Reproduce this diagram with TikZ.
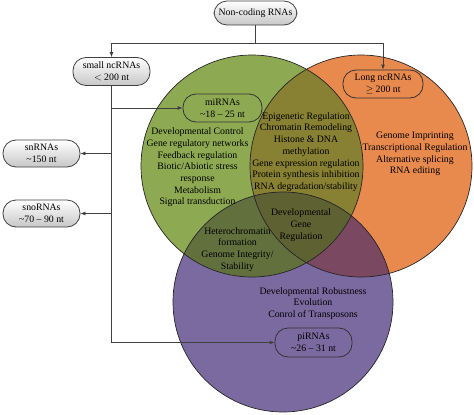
\documentclass[tikz,border=0pt]{standalone}
\usepackage{fontspec}
\setmainfont{Liberation Serif}
\usetikzlibrary{arrows.meta}

\definecolor{grn}{RGB}{141,170,82}
\definecolor{org}{RGB}{232,137,78}
\definecolor{prp}{RGB}{123,106,160}
\definecolor{grnorg}{RGB}{136,128,50}
\definecolor{grnprp}{RGB}{98,112,62}
\definecolor{orgprp}{RGB}{122,72,96}
\definecolor{allthree}{RGB}{94,98,50}

\begin{document}
\begin{tikzpicture}[x=1pt,y=-1pt,>={Latex[length=5pt,width=4pt]},
  txt/.style={align=center,inner sep=0pt,font=\fontsize{9.8}{11.7}\selectfont},
  rnabox/.style={txt,draw=black!75,line width=0.8pt,rounded corners=13pt,
    minimum width=77pt,minimum height=28pt,top color=white,bottom color=black!22},
  clrbox/.style={txt,draw=black!80,line width=0.8pt,rounded corners=13pt,
    minimum width=79pt,minimum height=28pt},
  link/.style={draw=black!75,line width=0.8pt}]
\useasboundingbox (0,0) rectangle (474,415);

\coordinate (gc) at (252,166);
\coordinate (oc) at (361,166);
\coordinate (pc) at (283,302);

% the three circles
\fill[grn] (gc) circle[radius=111];
\fill[org] (oc) circle[radius=111];
\fill[prp] (pc) circle[radius=110];
\begin{scope}
  \clip (gc) circle[radius=111];
  \fill[grnorg] (oc) circle[radius=111];
  \fill[grnprp] (pc) circle[radius=110];
\end{scope}
\begin{scope}
  \clip (oc) circle[radius=111];
  \fill[orgprp] (pc) circle[radius=110];
\end{scope}
\begin{scope}
  \clip (gc) circle[radius=111];
  \clip (oc) circle[radius=111];
  \fill[allthree] (pc) circle[radius=110];
\end{scope}
\foreach \c/\r in {gc/111,oc/111,pc/110}{
    \draw[black!85,line width=0.7pt] (\c) circle[radius=\r];
}

% boxes
\node[rnabox,minimum width=83pt,minimum height=24pt] (nc) at (255.5,13) {Non-coding RNAs};
\node[rnabox] (small) at (111.5,71.5) {small ncRNAs\\$<$ 200 nt};
\node[clrbox,minimum width=80pt] (long) at (383,84) {Long ncRNAs\\$\geq$ 200 nt};
\node[clrbox] (mi) at (222.5,108) {miRNAs\\\textasciitilde18 -- 25 nt};
\node[rnabox,minimum height=27pt] (sn) at (41.5,153.5) {snRNAs\\\textasciitilde150 nt};
\node[rnabox,minimum height=27pt] (sno) at (41.5,213.5) {snoRNAs\\\textasciitilde70 -- 90 nt};
\node[clrbox,minimum width=77pt,minimum height=29pt] (pi) at (313.5,342.5) {piRNAs\\\textasciitilde26 -- 31 nt};

% connectors
\coordinate (split) at (255.5,43);
\draw[link] (nc) -- (split);
\draw[link,->] (split) -| (small);
\draw[link,->] (split) -| (long);
\draw[link,->] (small) |- (pi);
\draw[link,->] (small.south |- mi) -- (mi);
\draw[link,->] (small.south |- sn) -- (sn);
\draw[link,->] (small.south |- sno) -- (sno);

% texts in the circles
\node[txt] (tgrn) at (197.5,167.5) {Developmental Control\\Gene regulatory networks\\Feedback regulation\\Biotic/Abiotic stress\\response\\Metabolism\\Signal transduction};
\node[txt] (tgo) at (306,152) {Epigenetic Regulation\\Chromatin Remodeling\\Histone \& DNA\\methylation\\Gene expression regulation\\Protein synthesis inhibition\\RNA degradation/stability};
\node[txt] (torg) at (415,154) {Genome Imprinting\\Transcriptional Regulation\\Alternative splicing\\RNA editing};
\node[txt] (tall) at (301,225) {Developmental\\Gene\\Regulation};
\node[txt] (tgp) at (237.5,249.5) {Heterochromatin\\formation\\Genome Integrity/\\Stability};
\node[txt] (tprp) at (313,303.5) {Developmental Robustness\\Evolution\\Conrol of Transposons};

\end{tikzpicture}
\end{document}
